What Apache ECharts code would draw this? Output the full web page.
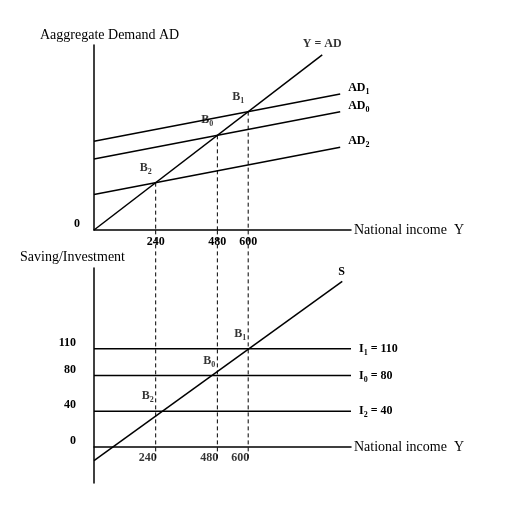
<!DOCTYPE html><html><head><meta charset="utf-8"><script src="https://cdn.jsdelivr.net/npm/echarts@6/dist/echarts.min.js"></script>
<style>html,body{margin:0;background:#fff}#c{width:519px;height:505px}</style></head><body><div id="c"></div><script>
const incomeTicks=[240,480,600];
const bNames=['B2','B0','B1'];
const adValues=[240,480,600];
const adIntercepts=[180,360,450];   // AD2, AD0, AD1
const adNames=['AD2','AD0','AD1'];
const adSlope=0.25;
const investTicks=[0,40,80,110];
const investValues=[40,80,110];
const investNames=['I2 = 40','I0 = 80','I1 = 110'];
const savingLine=[[0,-15],[966,185]];
const F='Liberation Serif';
function sub(s){const m=s.match(/^([A-Z]+)(\d)(.*)$/);return m?'{a|'+m[1]+'}{s|'+m[2]+'}{a|'+m[3]+'}':'{a|'+s+'}';}
const rich={a:{fontFamily:F,fontWeight:'bold',fontSize:12,color:'#000'},s:{fontFamily:F,fontWeight:'bold',fontSize:8,color:'#000',padding:[8,0,0,0]}};
const blk={color:'#000',width:1.5};
const series=[];
series.push({type:'line',xAxisIndex:0,yAxisIndex:0,data:[[0,0],[888,888]],symbol:'none',lineStyle:blk});
adIntercepts.forEach((a,i)=>{series.push({type:'line',xAxisIndex:0,yAxisIndex:0,symbol:'none',lineStyle:blk,data:[[0,a],[958,a+adSlope*958]],
 endLabel:{show:true,formatter:sub(adNames[i]),rich,offset:[0,-6]}});});
incomeTicks.forEach((x,i)=>{
 series.push({type:'line',xAxisIndex:0,yAxisIndex:0,symbol:'none',lineStyle:{color:'#000',width:1,type:[4,3]},data:[[x,adValues[i]],[x,0]]});
 series.push({type:'line',xAxisIndex:1,yAxisIndex:1,symbol:'none',clip:false,lineStyle:{color:'#000',width:1,type:[4,3]},data:[[x,242],[x,-13]]});
});
series.push({type:'scatter',xAxisIndex:0,yAxisIndex:0,symbolSize:0,data:incomeTicks.map((x,i)=>[x,adValues[i]]),
 label:{show:true,position:'top',offset:[-10,-2],formatter:p=>sub(bNames[p.dataIndex]),rich}});
series.push({type:'scatter',xAxisIndex:0,yAxisIndex:0,symbolSize:0,data:[[888,888]],label:{show:true,position:'top',offset:[0,0],formatter:'{a|Y = AD}',rich}});
investValues.forEach((v,i)=>{series.push({type:'line',xAxisIndex:1,yAxisIndex:1,symbol:'none',lineStyle:blk,data:[[0,v],[1000,v]],
 endLabel:{show:true,formatter:sub(investNames[i]),rich,offset:[0,0]}});});
series.push({type:'line',xAxisIndex:1,yAxisIndex:1,symbol:'none',lineStyle:blk,data:savingLine,
 endLabel:{show:true,formatter:'{a|S}',rich,offset:[-12,-10]}});
series.push({type:'scatter',xAxisIndex:1,yAxisIndex:1,symbolSize:0,data:incomeTicks.map((x,i)=>[x,investValues[i]]),
 label:{show:true,position:'top',offset:[-8,-2],formatter:p=>sub(bNames[p.dataIndex]),rich}});
series.push({type:'scatter',xAxisIndex:1,yAxisIndex:1,symbolSize:0,data:incomeTicks.map(x=>[x,0]),
 label:{show:true,position:'bottom',offset:[-8,0],formatter:p=>'{a|'+incomeTicks[p.dataIndex]+'}',rich}});
const lbl={fontFamily:F,fontWeight:'bold',fontSize:12,color:'#000'};
const opt={animation:false,
 grid:[{left:94,top:45,width:257,height:185},{left:94,top:268,width:257,height:215}],
 xAxis:[
  {gridIndex:0,type:'value',min:0,max:1000,splitLine:{show:false},axisLine:{lineStyle:blk},axisTick:{show:false},
   axisLabel:{customValues:incomeTicks,...lbl,margin:6},name:'National income  Y',nameLocation:'end',nameGap:3,nameTextStyle:{...lbl,fontSize:14,fontWeight:'normal'}},
  {gridIndex:1,type:'value',min:0,max:1000,splitLine:{show:false},axisLine:{lineStyle:blk,onZero:true},axisTick:{show:false},
   axisLabel:{show:false},name:'National income  Y',nameLocation:'end',nameGap:3,nameTextStyle:{...lbl,fontSize:14,fontWeight:'normal'}}],
 yAxis:[
  {gridIndex:0,type:'value',min:0,max:938,splitLine:{show:false},axisLine:{lineStyle:blk},axisTick:{show:false},axisLabel:{customValues:[0],...lbl,margin:14,verticalAlign:'bottom'}},
  {gridIndex:1,type:'value',min:-40,max:200,splitLine:{show:false},axisLine:{lineStyle:blk,onZero:false},axisTick:{show:false},axisLabel:{customValues:investTicks,...lbl,margin:18,verticalAlign:'bottom'}}],
 graphic:[
  {type:'text',left:40,top:28,style:{text:'Aaggregate Demand AD',font:'14px "Liberation Serif"',fill:'#000'}},
  {type:'text',left:20,top:250,style:{text:'Saving/Investment',font:'14px "Liberation Serif"',fill:'#000'}}],
 series};
echarts.init(document.getElementById('c')).setOption(opt);
</script></body></html>
